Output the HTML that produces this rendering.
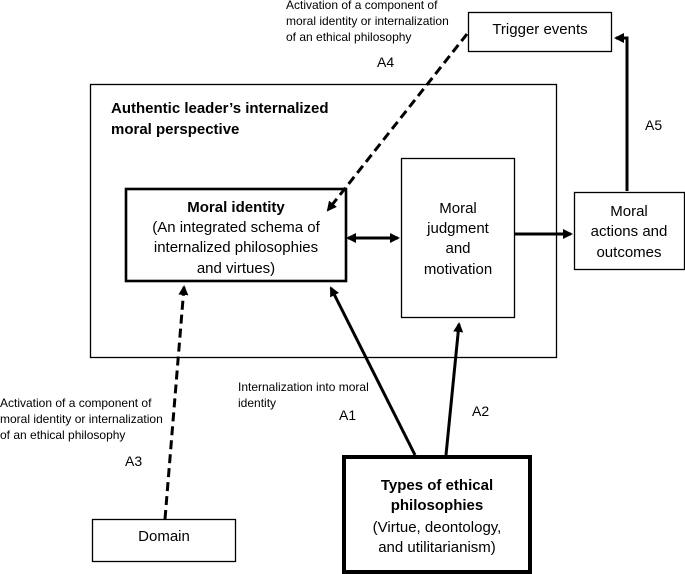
<!DOCTYPE html>
<html><head><meta charset="utf-8"><style>
body{margin:0;background:#fff;}
svg{display:block;font-family:"Liberation Sans",sans-serif;}
</style></head><body>
<svg width="685" height="574" viewBox="0 0 685 574" xmlns="http://www.w3.org/2000/svg">
<defs>
<marker id="ah" markerWidth="10" markerHeight="10" refX="8" refY="5" orient="auto" markerUnits="userSpaceOnUse"><path d="M0,0 L10,5 L0,10 z" fill="#000"/></marker>
<marker id="ahs" markerWidth="10" markerHeight="10" refX="2" refY="5" orient="auto" markerUnits="userSpaceOnUse"><path d="M10,0 L0,5 L10,10 z" fill="#000"/></marker>
</defs>
<g fill="none" stroke="#000">
<rect x="90.5" y="84.5" width="466" height="273" stroke-width="1.3"/>
<rect x="468.5" y="12.5" width="143" height="39" stroke-width="1.3"/>
<rect x="126" y="189" width="220" height="92" stroke-width="2.6"/>
<rect x="401.5" y="158.5" width="113" height="159" stroke-width="1.3"/>
<rect x="574.5" y="192.5" width="110" height="77" stroke-width="1.3"/>
<rect x="92.5" y="519.5" width="143" height="42" stroke-width="1.3"/>
<rect x="344" y="457" width="186" height="115" stroke-width="4"/>
<line x1="348" y1="238" x2="398" y2="238" stroke-width="3" marker-end="url(#ah)" marker-start="url(#ahs)"/>
<line x1="515" y1="234" x2="571" y2="234" stroke-width="3" marker-end="url(#ah)"/>
<polyline points="627,191 627,38 616,38" stroke-width="3" marker-end="url(#ah)"/>
<line x1="467" y1="34" x2="328" y2="210" stroke-width="3" stroke-dasharray="9,5" marker-end="url(#ah)"/>
<line x1="165" y1="519" x2="184" y2="287" stroke-width="3" stroke-dasharray="9,5" marker-end="url(#ah)"/>
<line x1="415" y1="455" x2="331" y2="288" stroke-width="3" marker-end="url(#ah)"/>
<line x1="446" y1="455" x2="459" y2="324" stroke-width="3" marker-end="url(#ah)"/>
</g>
<g fill="#000" font-size="15" text-anchor="middle">
<text x="540" y="34">Trigger events</text>
<text x="236" y="212" font-weight="bold">Moral identity</text>
<text x="236" y="232">(An integrated schema of</text>
<text x="236" y="252">internalized philosophies</text>
<text x="236" y="273">and virtues)</text>
<text x="458" y="213">Moral</text>
<text x="458" y="233">judgment</text>
<text x="458" y="253">and</text>
<text x="458" y="274">motivation</text>
<text x="629" y="216">Moral</text>
<text x="629" y="236">actions and</text>
<text x="629" y="257">outcomes</text>
<text x="164" y="541">Domain</text>
<text x="437" y="490" font-weight="bold">Types of ethical</text>
<text x="437" y="510" font-weight="bold">philosophies</text>
<text x="437" y="532">(Virtue, deontology,</text>
<text x="437" y="552">and utilitarianism)</text>
</g>
<g fill="#000" font-size="15">
<text x="111" y="113" font-weight="bold">Authentic leader’s internalized</text>
<text x="111" y="134" font-weight="bold">moral perspective</text>
<text x="377" y="67" font-size="14">A4</text>
<text x="645" y="130" font-size="14">A5</text>
<text x="125" y="466" font-size="14">A3</text>
<text x="339" y="420" font-size="14">A1</text>
<text x="472" y="416" font-size="14">A2</text>
</g>
<g fill="#000" font-size="12">
<text x="286" y="9">Activation of a component of</text>
<text x="286" y="25">moral identity or internalization</text>
<text x="286" y="41">of an ethical philosophy</text>
<text x="0" y="407">Activation of a component of</text>
<text x="0" y="423">moral identity or internalization</text>
<text x="0" y="439">of an ethical philosophy</text>
<text x="238" y="391">Internalization into moral</text>
<text x="238" y="407">identity</text>
</g>
</svg>
</body></html>
